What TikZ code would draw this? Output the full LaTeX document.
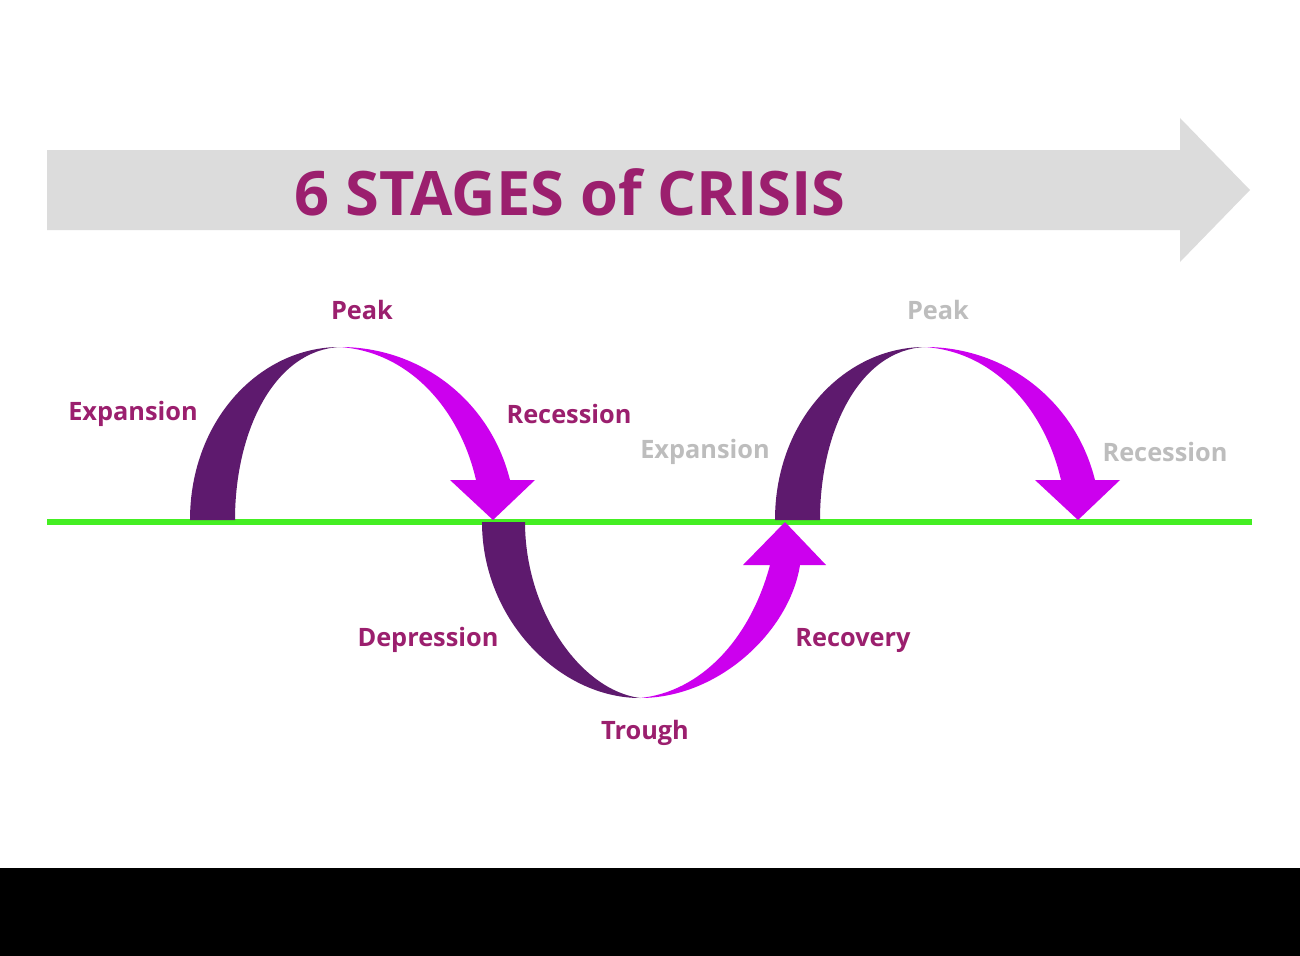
\documentclass[tikz,border=0pt]{standalone}
\usepackage{fontspec}
\setmainfont{Open Sans}
\usetikzlibrary{positioning}
\definecolor{Plum1}{HTML}{9B1F6E}
\definecolor{Plum2}{HTML}{5E1A6E}
\definecolor{Violet1}{HTML}{CC00EE}
\definecolor{Band1}{HTML}{DCDCDC}
\definecolor{Grey1}{HTML}{BDBDBD}
\definecolor{Line1}{HTML}{44EE22}
\begin{document}
\begin{tikzpicture}[x=0.75pt, y=-0.75pt,
  stage/.style={font=\bfseries\fontsize{19}{22}\selectfont, text=Plum1},
  ghost/.style={stage, text=Grey1}
  ]
\useasboundingbox (0,0) rectangle (1300,956);
\fill [white] (0,0) rectangle (1300,956);
\fill [black] (0,868) rectangle (1300,956);

% big arrow and title
\fill [Band1] (47,150) -- (1180,150) -- (1180,118) -- (1250,190) -- (1180,262) -- (1180,230) -- (47,230) -- cycle;
\node [font=\bfseries\fontsize{46}{52}\selectfont, text=Plum1] (title) at (570,192) {6 STAGES of CRISIS};

% base line
\draw [Line1, line width=4pt] (47,522) -- (1252,522);

% upper waves
\foreach \dx in {0,585} {
  \begin{scope}[xshift=\dx*0.75pt]
  \fill [Plum2] (190,520) .. controls (190,420) and (260,347) .. (340,347)
    .. controls (275,350) and (235,430) .. (235,520) -- cycle;
  \fill [Violet1] (340,347) .. controls (420,347) and (490,400) .. (510,480)
    -- (535,480) -- (493,520) -- (450,480) -- (476,480)
    .. controls (460,410) and (410,352) .. (340,347) -- cycle;
  \end{scope}
}
% trough
\fill [Plum2] (482,522) .. controls (482,620) and (560,698) .. (640,698)
  .. controls (580,690) and (525,610) .. (525,522) -- cycle;
\fill [Violet1] (640,698) .. controls (720,698) and (790,630) .. (800,565)
  -- (826,565) -- (785,522) -- (743,565) -- (770,565)
  .. controls (750,640) and (700,692) .. (640,698) -- cycle;

% labels
\node [stage] (peak1) at (362,310) {Peak};
\node [stage] (exp1) at (133,414) {Expansion};
\node [stage] (rec1) at (569,414) {Recession};
\node [stage] (dep) at (428,640) {Depression};
\node [stage] (trough) at (645,733) {Trough};
\node [stage] (recov) at (853,640) {Recovery};
\node [ghost] (exp2) at (705,452) {Expansion};
\node [ghost] (peak2) at (938,310) {Peak};
\node [ghost] (rec2) at (1165,452) {Recession};
\end{tikzpicture}
\end{document}
